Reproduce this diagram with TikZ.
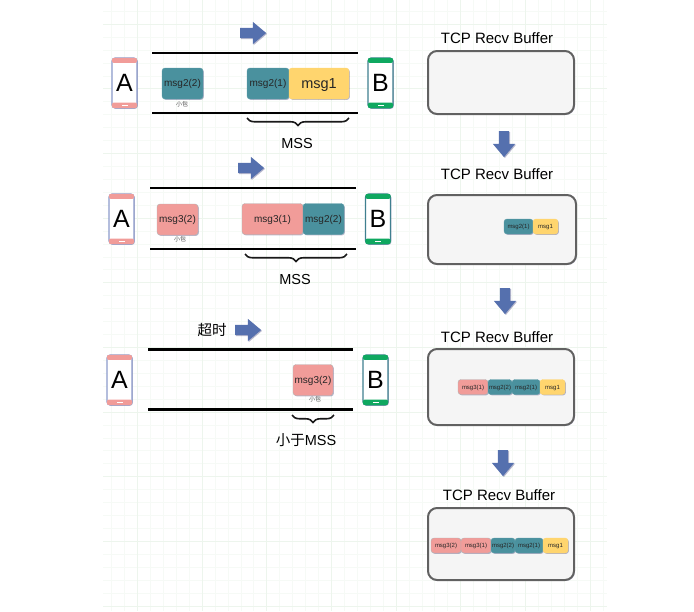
\documentclass[tikz,border=0pt]{standalone}
\usepackage{fontspec}
\setmainfont{Liberation Sans}
\newfontfamily\cjk{Noto Sans CJK SC}
\usetikzlibrary{positioning,arrows.meta,backgrounds,shadows,shapes.arrows,decorations.pathreplacing}
\definecolor{tealmsg}{HTML}{4A919E}
\definecolor{yellowmsg}{HTML}{FFD56E}
\definecolor{pinkmsg}{HTML}{F19C99}
\definecolor{arrowblue}{HTML}{5570AE}
\definecolor{gridmajor}{HTML}{EDF5ED}
\definecolor{gridminor}{HTML}{F6FAF6}
\definecolor{phoneblue}{HTML}{8C9BCB}
\definecolor{phoneteal}{HTML}{3F7F8F}
\definecolor{bandgreen}{HTML}{0FA860}
\begin{document}
\begin{tikzpicture}[
    x=1pt, y=-1pt,
    % --- box styles ---
    softshadow/.style={drop shadow={shadow xshift=0.9pt, shadow yshift=-0.9pt, opacity=0.28, fill=black!70!blue}},
    msgbox/.style={rounded corners=3pt, inner sep=0pt, text=black!85, softshadow},
    bigmsg/.style={msgbox, minimum height=31pt, text height=8pt, text depth=1.6pt, font=\fontsize{10}{12}\selectfont},
    minimsg/.style={msgbox, minimum height=15pt, text height=5pt, text depth=0.6pt, font=\fontsize{6}{7}\selectfont},
    tealbox/.style={fill=tealmsg, draw=tealmsg!90!white, line width=0.4pt},
    yellowbox/.style={fill=yellowmsg, draw=yellowmsg, line width=0.4pt},
    pinkbox/.style={fill=pinkmsg, draw=black!30, line width=0.4pt},
    buffer/.style={draw=black!62, fill=black!4, line width=2pt, rounded corners=9pt, inner sep=0pt, softshadow},
    phone/.style={rounded corners=3pt, inner sep=0pt, minimum width=25pt, minimum height=50pt, line width=1.1pt,
                  font=\fontsize{25}{28}\selectfont, fill=white, softshadow},
    % --- arrow styles ---
    fatarrow/.style={single arrow, fill=arrowblue, inner xsep=0pt, inner ysep=5pt, minimum height=26pt, minimum width=22pt,
                     single arrow head extend=6pt, single arrow tip angle=80, softshadow},
    downarrow/.style={fatarrow, inner xsep=5pt, inner ysep=0pt, shape border rotate=270},
    wire/.style={line width=2.2pt, black},
    mssbrace/.style={decorate, decoration={brace, mirror, amplitude=7.5pt}, line width=1.6pt, black!90},
    % --- label styles ---
    titlelbl/.style={font=\fontsize{15}{18}\selectfont, inner sep=0pt},
    lbl/.style={font=\fontsize{14.5}{17}\selectfont, inner sep=0pt},
    tinylbl/.style={font=\cjk\fontsize{6}{7}\selectfont, text=black!70, inner sep=0pt},
]
\useasboundingbox (0,0) rectangle (694,611);

%% ---- BACKGROUND GRID ----
\clip (103,0) rectangle (607,611);
\draw[gridminor, line width=0.4pt, step=12.93pt, shift={(8,24)}] (95,-24) grid (599,587);
\draw[gridmajor, line width=0.5pt, step=64.67pt, shift={(8,24)}] (95,-24) grid (599,587);

%% ---- ROW 1 ----
\node[fatarrow] (go1) at (250,33) {};
\node[phone, draw=phoneblue] (a1) at (124.5,83) {A};
\node[phone, draw=phoneteal] (b1) at (380.5,83) {B};
\coordinate (t1l) at (152,53);  \coordinate (t1r) at (358,53);
\coordinate (d1l) at (152,113); \coordinate (d1r) at (358,113);
\draw[wire] (t1l) -- (t1r);
\draw[wire] (d1l) -- (d1r);
\node[bigmsg, tealbox, minimum width=41pt] (m22a) at (182.5,83.5) {msg2(2)};
\node[tinylbl] (small1) at (182,104) {小包};
\node[bigmsg, tealbox, minimum width=42pt] (m21a) at (268,83.5) {msg2(1)};
\node[bigmsg, yellowbox, minimum width=60pt, text height=11.5pt, text depth=1.9pt, font=\fontsize{14.5}{17}\selectfont] (m1a) at (319,83.5) {msg1};
\coordinate (br1l) at (247,118); \coordinate (br1r) at (349,118);
\draw[mssbrace] (br1l) -- (br1r);
\node[lbl] (mss1) at (297,143.5) {MSS};

%% ---- ROW 2 ----
\node[fatarrow] (go2) at (248,168) {};
\node[phone, draw=phoneblue] (a2) at (121.5,219) {A};
\node[phone, draw=phoneteal] (b2) at (378,219) {B};
\coordinate (t2l) at (150,188);  \coordinate (t2r) at (356,188);
\coordinate (d2l) at (150,249);  \coordinate (d2r) at (356,249);
\draw[wire] (t2l) -- (t2r);
\draw[wire] (d2l) -- (d2r);
\node[bigmsg, pinkbox, minimum width=41pt] (m32a) at (177.5,219.5) {msg3(2)};
\node[tinylbl] (small2) at (180,239) {小包};
\node[bigmsg, pinkbox, minimum width=61pt] (m31a) at (272.5,219) {msg3(1)};
\node[bigmsg, tealbox, minimum width=41pt] (m22b) at (323.5,219) {msg2(2)};
\coordinate (br2l) at (245,254); \coordinate (br2r) at (347,254);
\draw[mssbrace] (br2l) -- (br2r);
\node[lbl] (mss2) at (295,279.5) {MSS};

%% ---- ROW 3 ----
\node[lbl, font=\cjk\fontsize{14.5}{17}\selectfont] (timeout) at (212,330) {超时};
\node[fatarrow] (go3) at (245,330) {};
\node[phone, draw=phoneblue] (a3) at (119.5,380) {A};
\node[phone, draw=phoneteal] (b3) at (375.5,380) {B};
\coordinate (t3l) at (148,349.5);  \coordinate (t3r) at (353,349.5);
\coordinate (d3l) at (148,409.5);  \coordinate (d3r) at (353,409.5);
\draw[wire] (t3l) -- (t3r);
\draw[wire] (d3l) -- (d3r);
\node[bigmsg, pinkbox, minimum width=40pt] (m32b) at (313,380) {msg3(2)};
\node[tinylbl] (small3) at (315,399) {小包};
\coordinate (br3l) at (292,415); \coordinate (br3r) at (334,415);
\draw[mssbrace] (br3l) -- (br3r);
\node[lbl] (mss3) at (306,440.5) {{\cjk 小于}MSS};

%% ---- BUFFERS ----
\node[titlelbl] (tb1) at (497,38) {TCP Recv Buffer};
\node[buffer, minimum width=146pt, minimum height=63pt] (buf1) at (501,82.5) {};
\node[downarrow] (dn1) at (504,141) {};

\node[titlelbl] (tb2) at (497,174) {TCP Recv Buffer};
\node[buffer, minimum width=148pt, minimum height=69pt] (buf2) at (502,229.5) {};
\node[minimsg, tealbox, minimum width=29pt] (s21) at (518.5,226.5) {msg2(1)};
\node[minimsg, yellowbox, minimum width=25pt] (s1) at (545.5,226.5) {msg1};
\node[downarrow] (dn2) at (505,298) {};

\node[titlelbl] (tb3) at (497,337) {TCP Recv Buffer};
\node[buffer, minimum width=146pt, minimum height=76pt] (buf3) at (501,387) {};
\node[minimsg, pinkbox, minimum width=30pt] (u31) at (473,387) {msg3(1)};
\node[minimsg, tealbox, minimum width=24pt] (u22) at (500,387) {msg2(2)};
\node[minimsg, tealbox, minimum width=28pt] (u21) at (526,387) {msg2(1)};
\node[minimsg, yellowbox, minimum width=25pt] (u1) at (552.5,387) {msg1};
\node[downarrow] (dn3) at (503,460) {};

\node[titlelbl] (tb4) at (499,495) {TCP Recv Buffer};
\node[buffer, minimum width=146pt, minimum height=72pt] (buf4) at (501,544) {};
\node[minimsg, pinkbox, minimum width=30pt] (v32) at (446,545.5) {msg3(2)};
\node[minimsg, pinkbox, minimum width=30pt] (v31) at (476,545.5) {msg3(1)};
\node[minimsg, tealbox, minimum width=24pt] (v22) at (503,545.5) {msg2(2)};
\node[minimsg, tealbox, minimum width=28pt] (v21) at (529,545.5) {msg2(1)};
\node[minimsg, yellowbox, minimum width=25pt] (v1) at (555.5,545.5) {msg1};

%% ---- PHONE BANDS ----
\foreach \ph/\bandcol in {a1/pinkmsg,a2/pinkmsg,a3/pinkmsg,b1/bandgreen,b2/bandgreen,b3/bandgreen}{
  \fill[\bandcol, rounded corners=2pt] ([xshift=0.5pt,yshift=-0.5pt]\ph.north west) rectangle ([xshift=-0.5pt,yshift=-5.5pt]\ph.north east);
  \fill[\bandcol, rounded corners=2pt] ([xshift=0.5pt,yshift=0.5pt]\ph.south west) rectangle ([xshift=-0.5pt,yshift=6pt]\ph.south east);
  \fill[white] ([xshift=-3pt,yshift=2.3pt]\ph.south) rectangle ([xshift=3pt,yshift=3.8pt]\ph.south);
}

\end{tikzpicture}
\end{document}
